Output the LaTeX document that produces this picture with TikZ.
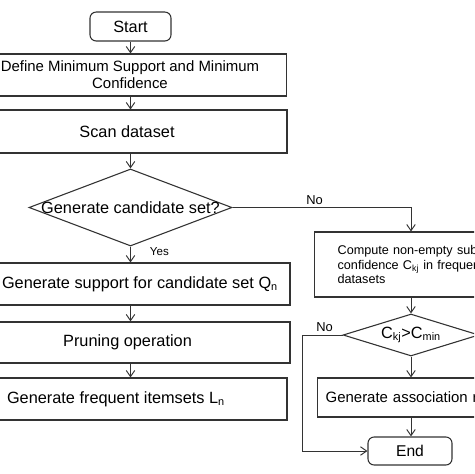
\documentclass[tikz,border=0pt]{standalone}
\usepackage{fontspec}
\setmainfont{Liberation Sans}
\usetikzlibrary{shapes.geometric,arrows.meta}

\begin{document}
\begin{tikzpicture}[x=0.736pt,y=-0.736pt,
    box/.style={draw=black!80,fill=white,line width=.8pt,minimum width=#1,minimum height=30.9pt,align=center,inner sep=2pt,font=\fontsize{12}{14}\selectfont},
    term/.style={box=#1,rounded corners=4.5pt,minimum height=21.3pt},
    decision/.style={diamond,draw=black!80,fill=white,line width=.8pt,inner sep=0pt,font=\fontsize{12}{14}\selectfont},
    flow/.style={draw=black!80,line width=.7pt,-{Straight Barb[length=1.6mm,width=2.2mm]}},
    tag/.style={font=\fontsize{9.5}{11}\selectfont,inner sep=2pt}]
    \clip (0,0) rectangle (474,474);
    % left column
    \node[term=59.6pt] (start) at (130.5,26.5) {Start};
    \node[box=231pt,font=\fontsize{11}{12.5}\selectfont] (define) at (130,75) {Define Minimum Support and Minimum\\Confidence};
    \node[box=235.5pt,minimum height=31.6pt] (scan) at (127,131.5) {Scan dataset};
    \node[decision,minimum width=149.4pt,minimum height=56.7pt] (cand) at (130.5,207.5) {\makebox[0pt]{Generate candidate set?}};
    \node[box=220.8pt] (support) at (140,284) {Generate support for candidate set Q\textsubscript{n}};
    \node[box=239.2pt,minimum height=30.2pt] (prune) at (127.5,342.5) {Pruning operation};
    \node[box=251.7pt] (frequent) at (116,399) {Generate frequent itemsets L\textsubscript{n}};
    % right column
    \node[box=191pt,anchor=west,minimum height=47.8pt,align=left,text width=157pt,inner xsep=17pt,font=\fontsize{9.3}{10.8}\selectfont] (compute) at (314,264.5) {Compute non-empty subsets and\\confidence C\textsubscript{kj} in frequent itemsets\\datasets};
    \node[decision,minimum width=100pt,minimum height=30.9pt] (cmp) at (411,335) {\makebox[0pt]{C\textsubscript{kj}>C\textsubscript{min}}};
    \node[box=180pt,anchor=west,minimum height=28.7pt,align=left,text width=168pt,inner xsep=5.9pt,font=\fontsize{11}{13}\selectfont] (assoc) at (317,397.5) {Generate association rules};
    \node[term=61.8pt,minimum height=20.6pt,font=\fontsize{11.5}{13}\selectfont] (end) at (410,451) {End};
    % connectors
    \draw[flow] (start) -- (start |- define.north);
    \draw[flow] (define.south -| start) -- (scan.north -| start);
    \draw[flow] (scan.south -| start) -- (cand.north);
    \draw[flow] (cand.south) -- (support.north -| cand) node[tag,font=\fontsize{8.5}{10}\selectfont,pos=.3,right=12pt] {Yes};
    \draw[flow] (support.south -| start) -- (prune.north -| start);
    \draw[flow] (prune.south -| start) -- (frequent.north -| start);
    \draw[flow] (cand.east) -| (compute.north -| cmp) node[tag,pos=.23,above] {No};
    \draw[flow] (compute.south -| cmp) -- (cmp.north);
    \draw[flow] (cmp.south) -- (assoc.north -| cmp);
    \draw[flow] (assoc.south -| cmp) -- (end.north -| cmp);
    \draw[flow] (cmp.west) -- ++(-40,0) node[tag,pos=.45,above] {No} |- (end.west);
\end{tikzpicture}
\end{document}
